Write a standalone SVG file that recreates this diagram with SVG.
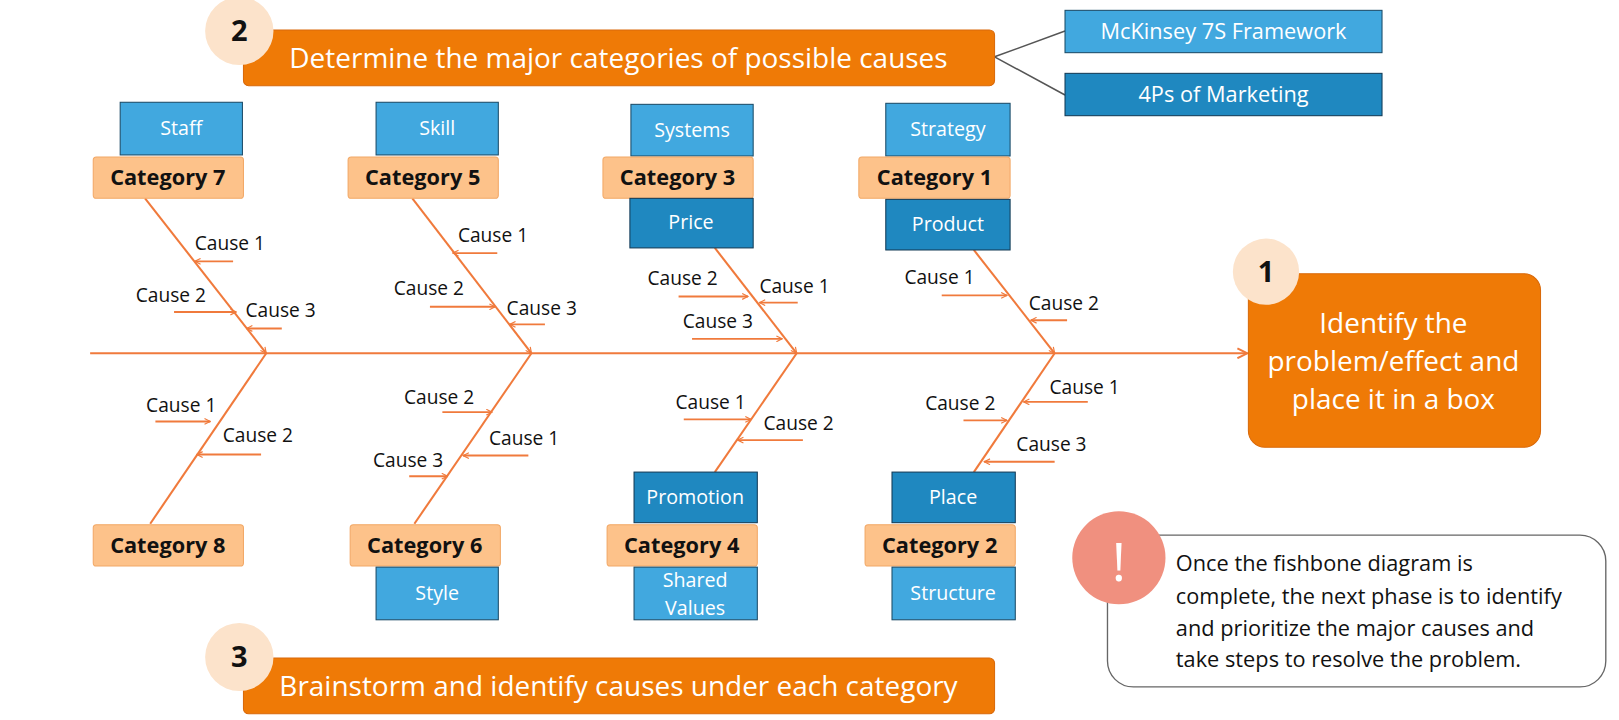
<svg xmlns="http://www.w3.org/2000/svg" width="1619" height="720" viewBox="0 0 1619 720">
<style>
text{font-family:"Open Sans",Lato,"Liberation Sans",sans-serif}
.ban{fill:#EF7A06;stroke:#D9690A;stroke-width:1}
.num{fill:#FCE3CB}
.numt{font-size:28px;font-weight:bold;fill:#111;text-anchor:middle}
.bt{font-size:27px;fill:#fff;text-anchor:middle}
.cat{fill:#FDC28A;stroke:#F2A866}
.catt{font-size:21px;font-weight:bold;fill:#111;text-anchor:middle}
.lb{fill:#41A8DF;stroke:#1a4a66}
.db{fill:#1F88C0;stroke:#123a55}
.bl{font-size:19px;fill:#fff;text-anchor:middle}
.bone{stroke:#F07A3C;stroke-width:2;fill:none}
.ca{stroke:#F07A3C;stroke-width:1.8;fill:none;marker-end:url(#ah)}
.ct{font-size:18.5px;fill:#111}
</style>
<defs>
<marker id="ah" viewBox="0 0 10 10" refX="9" refY="5" markerWidth="7" markerHeight="7" orient="auto" markerUnits="userSpaceOnUse"><path d="M1,1 L9,5 L1,9" fill="none" stroke="#F07A3C" stroke-width="1.6"/></marker>
<marker id="ah2" viewBox="0 0 10 10" refX="9" refY="5" markerWidth="12" markerHeight="12" orient="auto" markerUnits="userSpaceOnUse"><path d="M1,1 L9,5 L1,9" fill="none" stroke="#F07A3C" stroke-width="1.6"/></marker>
</defs>
<g transform="scale(1.036,1.033)">
<g id="connectors">
<line x1="87" y1="342" x2="1204" y2="342" class="bone" marker-end="url(#ah2)"/>
<line x1="140" y1="192" x2="257" y2="342" class="bone" marker-end="url(#ah)"/>
<line x1="398" y1="192" x2="513" y2="342" class="bone" marker-end="url(#ah)"/>
<line x1="690" y1="240" x2="769" y2="342" class="bone" marker-end="url(#ah)"/>
<line x1="940" y1="242" x2="1018" y2="342" class="bone" marker-end="url(#ah)"/>
<line x1="145" y1="507" x2="257" y2="342" class="bone"/>
<line x1="400" y1="507" x2="513" y2="342" class="bone"/>
<line x1="690" y1="457" x2="769" y2="342" class="bone"/>
<line x1="940" y1="457" x2="1018" y2="342" class="bone"/>
<line x1="225" y1="253" x2="188" y2="253" class="ca"/><line x1="168" y1="302" x2="228" y2="302" class="ca"/><line x1="272" y1="318" x2="238" y2="318" class="ca"/>
<line x1="480" y1="245" x2="437" y2="245" class="ca"/><line x1="415" y1="297" x2="478" y2="297" class="ca"/><line x1="526" y1="314" x2="492" y2="314" class="ca"/>
<line x1="655" y1="287" x2="722" y2="287" class="ca"/><line x1="770" y1="293" x2="733" y2="293" class="ca"/><line x1="668" y1="328" x2="755" y2="328" class="ca"/>
<line x1="909" y1="286" x2="972" y2="286" class="ca"/><line x1="1030" y1="310" x2="995" y2="310" class="ca"/>
<line x1="150" y1="408" x2="203" y2="408" class="ca"/><line x1="252" y1="440" x2="190" y2="440" class="ca"/>
<line x1="427" y1="399" x2="475" y2="399" class="ca"/><line x1="510" y1="441" x2="447" y2="441" class="ca"/><line x1="395" y1="461" x2="432" y2="461" class="ca"/>
<line x1="660" y1="406" x2="725" y2="406" class="ca"/><line x1="775" y1="426" x2="712" y2="426" class="ca"/>
<line x1="930" y1="407" x2="972" y2="407" class="ca"/><line x1="1050" y1="389" x2="988" y2="389" class="ca"/><line x1="1018" y1="447" x2="950" y2="447" class="ca"/>
<path d="M960,55L1028,30M960,55L1028,92" stroke="#555" stroke-width="1.5" fill="none"/>
</g>
<g id="causes">
<text class="ct" x="188" y="242">Cause 1</text><text class="ct" x="131" y="292">Cause 2</text><text class="ct" x="237" y="307">Cause 3</text>
<text class="ct" x="442" y="234">Cause 1</text><text class="ct" x="380" y="286">Cause 2</text><text class="ct" x="489" y="305">Cause 3</text>
<text class="ct" x="625" y="276">Cause 2</text><text class="ct" x="733" y="284">Cause 1</text><text class="ct" x="659" y="318">Cause 3</text>
<text class="ct" x="873" y="275">Cause 1</text><text class="ct" x="993" y="300">Cause 2</text>
<text class="ct" x="141" y="399">Cause 1</text><text class="ct" x="215" y="428">Cause 2</text>
<text class="ct" x="390" y="391">Cause 2</text><text class="ct" x="472" y="431">Cause 1</text><text class="ct" x="360" y="452">Cause 3</text>
<text class="ct" x="652" y="396">Cause 1</text><text class="ct" x="737" y="416">Cause 2</text>
<text class="ct" x="893" y="397">Cause 2</text><text class="ct" x="1013" y="381">Cause 1</text><text class="ct" x="981" y="437">Cause 3</text>
</g>
<g id="step2"><rect class="ban" x="235" y="29" width="725" height="54" rx="5"/><circle class="num" cx="231" cy="30" r="33"/><text class="numt" x="231" y="40">2</text><text class="bt" x="597" y="66">Determine the major categories of possible causes</text></g>
<g id="mckinsey"><rect class="lb" x="1028" y="10" width="306" height="41"/><text class="bl" x="1181" y="38" style="font-size:21px">McKinsey 7S Framework</text></g>
<g id="fourps"><rect class="db" x="1028" y="71" width="306" height="41"/><text class="bl" x="1181" y="99" style="font-size:21px">4Ps of Marketing</text></g>
<g id="step3"><rect class="ban" x="235" y="637" width="725" height="54" rx="5"/><circle class="num" cx="231" cy="636" r="33"/><text class="numt" x="231" y="646">3</text><text class="bt" x="597" y="674">Brainstorm and identify causes under each category</text></g>
<g id="step1"><rect class="ban" x="1205" y="265" width="282" height="168" rx="16"/><circle class="num" cx="1222" cy="263" r="32"/><text class="numt" x="1222" y="273">1</text>
<text class="bt" x="1345" y="322">Identify the</text><text class="bt" x="1345" y="359">problem/effect and</text><text class="bt" x="1345" y="396">place it in a box</text></g>
<g id="note"><rect x="1069" y="518" width="481" height="147" rx="25" fill="#fff" stroke="#666" stroke-width="1.3"/><circle cx="1080" cy="540" r="45" fill="#F0907F"/><text x="1080" y="562" style="font-size:52px;fill:#fff;text-anchor:middle">!</text>
<text style="font-size:21px;fill:#111"><tspan x="1135" y="553">Once the fishbone diagram is</tspan><tspan x="1135" y="585">complete, the next phase is to identify</tspan><tspan x="1135" y="616">and prioritize the major causes and</tspan><tspan x="1135" y="646">take steps to resolve the problem.</tspan></text></g>
<g id="cat7"><rect class="lb" x="116" y="99" width="118" height="51"/><text class="bl" x="175" y="131">Staff</text><rect class="cat" x="90" y="152" width="145" height="40" rx="3"/><text class="catt" x="162" y="179">Category 7</text></g>
<g id="cat5"><rect class="lb" x="363" y="99" width="118" height="51"/><text class="bl" x="422" y="131">Skill</text><rect class="cat" x="336" y="152" width="145" height="40" rx="3"/><text class="catt" x="408" y="179">Category 5</text></g>
<g id="cat3"><rect class="lb" x="609" y="101" width="118" height="50"/><text class="bl" x="668" y="133">Systems</text><rect class="cat" x="582" y="152" width="145" height="40" rx="3"/><text class="catt" x="654" y="179">Category 3</text><rect class="db" x="608" y="192" width="119" height="48"/><text class="bl" x="667" y="222">Price</text></g>
<g id="cat1"><rect class="lb" x="855" y="100" width="120" height="51"/><text class="bl" x="915" y="132">Strategy</text><rect class="cat" x="829" y="152" width="146" height="40" rx="3"/><text class="catt" x="902" y="179">Category 1</text><rect class="db" x="855" y="193" width="120" height="49"/><text class="bl" x="915" y="224">Product</text></g>
<g id="cat8"><rect class="cat" x="90" y="508" width="145" height="40" rx="3"/><text class="catt" x="162" y="535">Category 8</text></g>
<g id="cat6"><rect class="cat" x="338" y="508" width="145" height="40" rx="3"/><text class="catt" x="410" y="535">Category 6</text><rect class="lb" x="363" y="549" width="118" height="51"/><text class="bl" x="422" y="581">Style</text></g>
<g id="cat4"><rect class="db" x="612" y="457" width="119" height="49"/><text class="bl" x="671" y="488">Promotion</text><rect class="cat" x="586" y="508" width="145" height="40" rx="3"/><text class="catt" x="658" y="535">Category 4</text><rect class="lb" x="612" y="549" width="119" height="51"/><text class="bl" x="671" y="568">Shared</text><text class="bl" x="671" y="595">Values</text></g>
<g id="cat2"><rect class="db" x="861" y="457" width="119" height="49"/><text class="bl" x="920" y="488">Place</text><rect class="cat" x="835" y="508" width="145" height="40" rx="3"/><text class="catt" x="907" y="535">Category 2</text><rect class="lb" x="861" y="549" width="119" height="51"/><text class="bl" x="920" y="581">Structure</text></g>
</g>
</svg>
